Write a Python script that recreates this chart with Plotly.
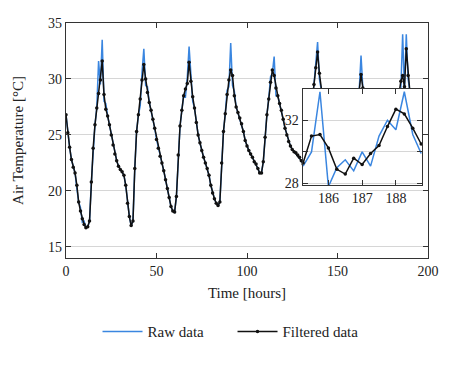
import plotly.graph_objects as go

# ---------------- data ----------------
hours = list(range(0, 197))

filtered_temp = [
    26.8, 25.2, 23.9, 22.8, 22.1, 21.6, 20.5, 19.0, 18.2, 17.5,
    17.0, 16.7, 16.8, 17.3, 20.8, 23.8, 25.9, 27.4, 28.7, 29.9,
    31.6, 28.6, 27.3, 26.7, 25.9, 25.0, 24.1, 23.3, 22.7, 22.2,
    21.9, 21.7, 21.4, 20.5, 18.9, 17.7, 16.9, 17.3, 22.0, 25.3,
    26.8, 28.2, 29.9, 31.3, 30.0, 28.8, 27.9, 27.2, 26.4, 25.6,
    24.6, 23.8, 23.1, 22.5, 21.8, 21.0, 20.2, 19.4, 18.6, 18.2,
    18.1, 19.5, 23.2, 25.8, 27.2, 28.5, 29.1, 29.6, 31.5, 29.8,
    28.4, 27.4, 26.1, 25.0, 24.3, 23.6, 23.0, 22.5, 22.0, 21.4,
    20.5, 19.8, 19.3, 18.9, 18.7, 19.0, 22.5, 25.3, 26.9, 28.6,
    29.9, 30.8, 30.3, 28.5, 27.5, 27.0, 26.5, 26.0, 25.3, 24.5,
    24.0, 23.6, 23.3, 23.0, 22.6, 22.4, 22.0, 21.6, 21.6, 22.6,
    24.8, 26.8, 28.2, 29.7, 30.8, 30.3, 29.2, 28.5, 27.8, 27.2,
    26.4, 25.6, 25.0, 24.4, 24.0, 23.7, 23.5, 23.4, 23.2, 23.0,
    22.7, 22.4, 22.0, 22.5, 24.5, 26.5, 28.0, 29.5, 31.0, 32.4,
    30.5, 29.0, 28.0, 27.2, 26.5, 25.8, 25.1, 24.6, 24.1, 23.6,
    23.2, 22.8, 22.5, 22.3, 22.0, 21.8, 21.6, 22.5, 24.5, 26.2,
    27.5, 28.5, 29.0, 30.4, 29.2, 28.8, 28.0, 27.3, 26.7, 26.0,
    25.4, 24.9, 24.4, 24.0, 23.6, 23.2, 22.9, 22.6, 22.4, 22.3,
    23.5, 25.0, 26.5, 27.6, 28.5, 29.8, 30.3, 29.3, 32.7, 30.3,
    28.8, 27.8, 27.0, 26.3, 25.6, 25.0, 24.5,
]

raw_temp = [
    26.8, 25.2, 23.9, 22.8, 22.1, 21.6, 20.2, 19.0, 18.5, 17.2,
    17.3, 16.7, 16.8, 17.3, 20.8, 23.8, 25.9, 27.4, 31.6, 29.5,
    33.5, 28.0, 27.8, 26.7, 25.9, 25.0, 24.1, 23.3, 22.7, 22.2,
    21.9, 21.7, 21.4, 20.5, 18.9, 17.7, 16.9, 17.3, 22.0, 25.3,
    26.8, 27.6, 30.6, 32.7, 29.4, 29.3, 27.9, 27.2, 26.4, 25.6,
    24.6, 23.8, 23.1, 22.5, 21.8, 21.0, 20.2, 19.4, 18.6, 18.2,
    18.1, 19.5, 23.2, 25.8, 27.2, 28.5, 28.4, 30.1, 32.9, 30.3,
    28.0, 27.4, 26.1, 25.0, 24.3, 23.6, 23.0, 22.5, 22.0, 21.4,
    20.5, 19.8, 19.3, 18.9, 18.7, 19.0, 22.5, 25.3, 26.9, 29.0,
    29.3, 33.2, 29.4, 28.9, 27.5, 27.0, 26.5, 26.0, 25.3, 24.5,
    24.0, 23.6, 23.3, 23.0, 22.6, 22.4, 22.0, 21.6, 21.6, 22.6,
    24.8, 26.8, 28.2, 30.2, 30.5, 32.0, 28.5, 28.5, 27.8, 27.2,
    26.4, 25.6, 25.0, 24.4, 24.0, 23.7, 23.5, 23.4, 23.2, 23.0,
    22.7, 22.4, 22.0, 22.5, 24.5, 26.5, 28.0, 29.5, 31.6, 33.3,
    30.0, 29.0, 28.0, 27.2, 26.5, 25.8, 25.1, 24.6, 24.1, 23.6,
    23.2, 22.8, 22.5, 22.3, 22.0, 21.8, 21.6, 22.5, 24.5, 26.2,
    27.5, 28.5, 29.0, 32.1, 29.2, 28.8, 28.0, 27.3, 26.7, 26.0,
    25.4, 24.9, 24.4, 24.0, 23.6, 23.2, 22.9, 22.6, 22.4, 22.3,
    23.5, 25.0, 26.5, 27.6, 28.5, 29.2, 34.0, 28.9, 34.0, 30.0,
    28.8, 27.8, 27.0, 26.3, 25.6, 25.0, 24.5,
]

inset_hours = [185.25, 185.5, 185.75, 186.0, 186.25, 186.5, 186.75, 187.0,
               187.25, 187.5, 187.75, 188.0, 188.25, 188.5, 188.75]
inset_raw = [29.1, 30.0, 33.8, 27.8, 29.0, 29.5, 28.8, 30.0,
             29.1, 31.0, 32.0, 31.4, 33.8, 31.1, 29.9]
inset_filtered = [29.3, 31.0, 31.1, 30.25, 28.9, 28.6, 29.6, 29.2,
                  29.9, 30.4, 31.6, 32.7, 32.4, 31.5, 30.5]

main_xticks = [0, 50, 100, 150, 200]
main_yticks = [15, 20, 25, 30, 35]
inset_xticks = [186, 187, 188]
inset_yticks = [28, 30, 32]
inset_yticktext = ["28", "", "32"]

# ---------------- style ----------------
BLUE = "#3a86e0"
BLACK = "#111111"
AXIS = "#333333"
GRID = "#d6d6d6"
FONT = "Liberation Serif"

fig = go.Figure()

fig.add_trace(go.Scatter(x=hours, y=raw_temp, mode="lines", name="Raw data",
                         line=dict(color=BLUE, width=1.5),
                         xaxis="x", yaxis="y"))
fig.add_trace(go.Scatter(x=hours, y=filtered_temp, mode="lines+markers",
                         name="Filtered data",
                         line=dict(color=BLACK, width=1.5),
                         marker=dict(color=BLACK, size=3.5),
                         xaxis="x", yaxis="y"))
fig.add_trace(go.Scatter(x=inset_hours, y=inset_raw, mode="lines",
                         showlegend=False, line=dict(color=BLUE, width=1.5),
                         xaxis="x2", yaxis="y2"))
fig.add_trace(go.Scatter(x=inset_hours, y=inset_filtered, mode="lines+markers",
                         showlegend=False, line=dict(color=BLACK, width=1.5),
                         marker=dict(color=BLACK, size=3.5),
                         xaxis="x2", yaxis="y2"))

inset_xrange = [185.24, 188.78]
inset_yrange = [27.9, 34.0]

# white background for the inset (drawn in inset subplot's layer)
fig.add_shape(type="rect", xref="x2", yref="y2",
              x0=inset_xrange[0], x1=inset_xrange[1],
              y0=inset_yrange[0], y1=inset_yrange[1],
              fillcolor="white", line=dict(width=0), layer="below")

axis_common = dict(showline=True, linecolor=AXIS, linewidth=1.2, mirror="ticks",
                   ticks="inside", ticklen=5, tickcolor=AXIS, tickwidth=1,
                   zeroline=False, automargin=False,
                   tickfont=dict(size=14, color="#222"))

# the page adds an 8px body margin, so the figure is sized 8px smaller
fig.update_layout(
    width=466, height=379,
    margin=dict(l=58, r=46, t=15, b=129),
    paper_bgcolor="white", plot_bgcolor="white",
    font=dict(family=FONT, size=15, color="#222"),
    xaxis=dict(range=[0, 200], tickvals=main_xticks, showgrid=False,
               title=dict(text="Time [hours]", font=dict(size=15), standoff=9),
               domain=[0, 1], anchor="y", **axis_common),
    yaxis=dict(range=[14, 35], tickvals=main_yticks, showgrid=True,
               gridcolor=GRID, gridwidth=1,
               title=dict(text="Air Temperature [°C]", font=dict(size=15), standoff=20),
               domain=[0, 1], anchor="x", **axis_common),
    xaxis2=dict(range=inset_xrange, tickvals=inset_xticks, showgrid=False,
                domain=[0.654, 0.984], anchor="y2", **axis_common),
    yaxis2=dict(range=inset_yrange, tickvals=inset_yticks,
                ticktext=inset_yticktext, showgrid=True, gridcolor=GRID,
                domain=[0.310, 0.721], anchor="x2", **axis_common),
    legend=dict(orientation="h", x=0.46, xanchor="center", y=-0.314,
                yanchor="middle", font=dict(size=15), bgcolor="rgba(0,0,0,0)",
                itemwidth=40, entrywidth=80),
    showlegend=True,
)

fig.write_html("out.html")
